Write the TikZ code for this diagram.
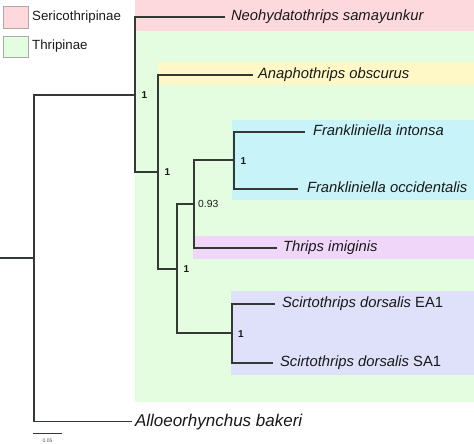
\documentclass[tikz,border=0pt]{standalone}
\usepackage{fontspec}
\setmainfont{Liberation Sans}
\definecolor{treecol}{HTML}{333A33}
\definecolor{bgpink}{HTML}{FDD9DD}
\definecolor{bggreen}{HTML}{E4FCDF}
\definecolor{bgyellow}{HTML}{FEF8C6}
\definecolor{bgcyan}{HTML}{C8F4F9}
\definecolor{bgpurple}{HTML}{F0D6F8}
\definecolor{bglav}{HTML}{DFE0FA}
\definecolor{legborder}{HTML}{AAAAAA}
\begin{document}
\begin{tikzpicture}[x=1pt,y=-1pt,
  branch/.style={draw=treecol, line width=1.4pt},
  leaf/.style={anchor=west, inner sep=0pt, outer xsep=6pt, text height=10.5pt, text depth=3pt,
    font=\fontsize{14.8}{16}\selectfont\itshape, text=black!90},
  support/.style={anchor=west, inner sep=0pt, font=\fontsize{10}{11}\selectfont\bfseries, text=black!90},
  supportreg/.style={anchor=west, inner sep=0pt, font=\fontsize{10.3}{11}\selectfont, text=black!90},
  legbox/.style={draw=legborder, line width=0.6pt},
  legtext/.style={anchor=west, inner sep=0pt, font=\fontsize{13.3}{15}\selectfont, text=black!90}]
\useasboundingbox (0,0) rectangle (474,444);
% clade backgrounds
\fill[bgpink] (135,0) rectangle (474,31);
\fill[bggreen] (135,31) rectangle (474,402);
\fill[bgyellow] (158,62) rectangle (474,85);
\fill[bgcyan] (232,120) rectangle (474,200);
\fill[bgpurple] (193,236) rectangle (474,259);
\fill[bglav] (231,291) rectangle (474,375);
% legend
\draw[legbox, fill=bgpink] (3,6) rectangle (28,28);
\node[legtext] (lsr) at (32,17) {Sericothripinae};
\draw[legbox, fill=bggreen] (3,36) rectangle (28,57);
\node[legtext] (lth) at (32,46.5) {Thripinae};
% internal nodes
\coordinate (stem) at (0,258);
\coordinate (r) at (34,258);
\coordinate (n1) at (135,95);
\coordinate (n2) at (158,172);
\coordinate (n3) at (177,269);
\coordinate (n4) at (194,204);
\coordinate (n5) at (234,160);
\coordinate (n6) at (232,333);
% leaves
\node[leaf] (neo) at (225,17) {Neohydatothrips samayunkur};
\node[leaf, outer xsep=5pt] (ana) at (253,75) {Anaphothrips obscurus};
\node[leaf, outer xsep=8pt] (fin) at (305,132) {Frankliniella intonsa};
\node[leaf, outer xsep=9pt] (foc) at (298,189) {Frankliniella occidentalis};
\node[leaf] (thr) at (277,248) {Thrips imiginis};
\node[leaf, outer xsep=7pt] (ea) at (275,304) {Scirtothrips dorsalis\/ \upshape EA1};
\node[leaf, outer xsep=7pt] (sa) at (273,363) {Scirtothrips dorsalis\/ \upshape SA1};
\node[leaf, outer xsep=3pt, text height=12.5pt, text depth=3.5pt, font=\fontsize{17}{19}\selectfont\itshape] (allo) at (132,421.5) {Alloeorhynchus bakeri};
% branches
\draw[branch] (stem) -- (r);
\draw[branch] (r) |- (n1);
\draw[branch] (r) |- (allo);
\draw[branch] (n1) |- (neo);
\draw[branch] (n1) |- (n2);
\draw[branch] (n2) |- (ana);
\draw[branch] (n2) |- (n3);
\draw[branch] (n3) |- (n4);
\draw[branch] (n3) |- (n6);
\draw[branch] (n4) |- (n5);
\draw[branch] (n4) |- (thr);
\draw[branch] (n5) |- (fin);
\draw[branch] (n5) |- (foc);
\draw[branch] (n6) |- (ea);
\draw[branch] (n6) |- (sa);
% support values
\node[support] (s1) at (141.5,95) {1};
\node[support] (s2) at (164.5,172) {1};
\node[support] (s3) at (183.5,269) {1};
\node[supportreg] (s4) at (198,204) {0.93};
\node[support] (s5) at (240.5,161) {1};
\node[support] (s6) at (238,334) {1};
% scale bar
\coordinate (sb1) at (33,433.5);
\coordinate (sb2) at (62,433.5);
\draw[treecol, line width=0.8pt] (sb1) -- (sb2);
\node[inner sep=0pt, font=\fontsize{5}{6}\selectfont, text=black!70] (sbl) at (47.5,441) {0.05};
\end{tikzpicture}
\end{document}
